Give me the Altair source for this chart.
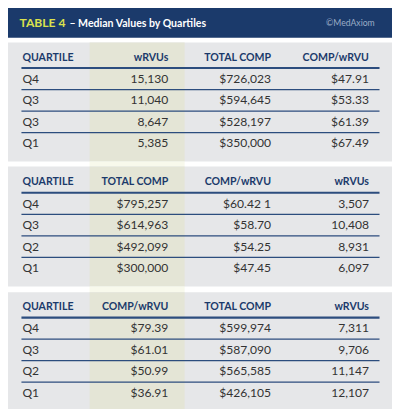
import pandas as pd
import altair as alt

# table contents
headers = [
    ["QUARTILE", "wRVUs", "TOTAL COMP", "COMP/wRVU"],
    ["QUARTILE", "TOTAL COMP", "COMP/wRVU", "wRVUs"],
    ["QUARTILE", "COMP/wRVU", "TOTAL COMP", "wRVUs"],
]
quartiles = [
    ["Q4", "Q3", "Q3", "Q1"],
    ["Q4", "Q3", "Q2", "Q1"],
    ["Q4", "Q3", "Q2", "Q1"],
]
col2 = [
    ["15,130", "11,040", "8,647", "5,385"],
    ["$795,257", "$614,963", "$492,099", "$300,000"],
    ["$79.39", "$61.01", "$50.99", "$36.91"],
]
col3 = [
    ["$726,023", "$594,645", "$528,197", "$350,000"],
    ["$60.42 1", "$58.70", "$54.25", "$47.45"],
    ["$599,974", "$587,090", "$565,585", "$426,105"],
]
col4 = [
    ["$47.91", "$53.33", "$61.39", "$67.49"],
    ["3,507", "10,408", "8,931", "6,097"],
    ["7,311", "9,706", "11,147", "12,107"],
]

title_tag = "TABLE 4"
title_text = "– Median Values by Quartiles"
credit = "©MedAxiom"

# layout (in reference pixels, scaled down to fit the page)
W, H = 400, 418
S = 0.96
col_x = [15, 167, 274, 376]
sec_top = [36, 165, 296]
sec_bottom = [160, 290, 418]
header_y = [50, 179.5, 309.5]
rule_y = [62.5, 192.5, 322.5]
step = 22.4
hi_x = [85, 184]

NAVY = "#1b3a6b"
TEXT = "#333333"
GRAY = "#e6e7e9"
HILITE = "#e4e5d6"
HILITE_GAP = "#f8f9ec"

rects, rules, texts = [], [], []
rects.append(dict(x=0, x2=W, y=0, y2=31, c=NAVY))
for s in range(3):
    rects.append(dict(x=0, x2=W, y=sec_top[s], y2=sec_bottom[s], c=GRAY))
    rects.append(dict(x=hi_x[0], x2=hi_x[1], y=sec_top[s], y2=sec_bottom[s], c=HILITE))
    if s < 2:
        rects.append(dict(x=hi_x[0], x2=hi_x[1], y=sec_bottom[s], y2=sec_top[s + 1], c=HILITE_GAP))
    rules.append(dict(x=14, x2=387, y=rule_y[s], w=2.2))
    for k in range(1, 4):
        rules.append(dict(x=14, x2=387, y=rule_y[s] + step * k, w=1.4))
    for c in range(4):
        texts.append(dict(x=col_x[c], y=header_y[s], t=headers[s][c], kind="head", left=c == 0))
    cols = [quartiles[s], col2[s], col3[s], col4[s]]
    for r in range(4):
        ry = rule_y[s] + step * (r + 0.5)
        for c in range(4):
            texts.append(dict(x=col_x[c], y=ry, t=cols[c][r], kind="body", left=c == 0))

rect_df = pd.DataFrame(rects)
rule_df = pd.DataFrame(rules)
text_df = pd.DataFrame(texts)
tag_df = pd.DataFrame([dict(x=12, y=19.5, t=title_tag)])
title_df = pd.DataFrame([dict(x=64, y=19.5, t=title_text)])
credit_df = pd.DataFrame([dict(x=382, y=19, t=credit)])

xs = alt.Scale(domain=[0, W], nice=False, zero=False)
ys = alt.Scale(domain=[0, H], nice=False, zero=False, reverse=True)
X = lambda f: alt.X(f, type="quantitative", scale=xs, axis=None)
Y = lambda f: alt.Y(f, type="quantitative", scale=ys, axis=None)

bg = alt.Chart(rect_df).mark_rect().encode(
    x=X("x"), x2="x2", y=Y("y"), y2="y2", color=alt.Color("c:N", scale=None)
)

thick = alt.Chart(rule_df).mark_rule(color="#2c4d7e", strokeWidth=2.2 * S).encode(
    x=X("x"), x2="x2", y=Y("y")
).transform_filter("datum.w > 2")
thin = alt.Chart(rule_df).mark_rule(color="#2c4d7e", strokeWidth=1.3 * S).encode(
    x=X("x"), x2="x2", y=Y("y")
).transform_filter("datum.w < 2")


def txt(kind, left, **style):
    return (
        alt.Chart(text_df)
        .mark_text(align="left" if left else "right", baseline="alphabetic", font="Lato", **style)
        .encode(x=X("x"), y=Y("y"), text="t:N")
        .transform_filter(f"datum.kind == '{kind}' && datum.left == {str(left).lower()}")
    )


head_style = dict(fontSize=11 * S, fontWeight="bold", color=NAVY, dy=5.2 * S)
body_style = dict(fontSize=12.6 * S, color=TEXT, dy=4.2 * S)

tag = alt.Chart(tag_df).mark_text(
    align="left", baseline="alphabetic", font="Lato", fontSize=12.6 * S,
    fontWeight="bold", color="#dbe24d"
).encode(x=X("x"), y=Y("y"), text="t:N")

title = alt.Chart(title_df).mark_text(
    align="left", baseline="alphabetic", font="Lato", fontSize=11 * S,
    fontWeight="bold", color="#ffffff"
).encode(x=X("x"), y=Y("y"), text="t:N")

credit_txt = alt.Chart(credit_df).mark_text(
    align="right", baseline="alphabetic", font="Lato", fontSize=9 * S, color="#9cadc6"
).encode(x=X("x"), y=Y("y"), text="t:N")

chart = (
    alt.layer(
        bg,
        thin,
        thick,
        txt("head", True, **head_style),
        txt("head", False, **head_style),
        txt("body", True, **body_style),
        txt("body", False, **body_style),
        tag,
        title,
        credit_txt,
    )
    .properties(width=W * S, height=H * S, padding=0, autosize="none", background="white")
    .configure_view(stroke=None)
)

chart.save("out.html", embed_options={"renderer": "svg", "actions": False})
